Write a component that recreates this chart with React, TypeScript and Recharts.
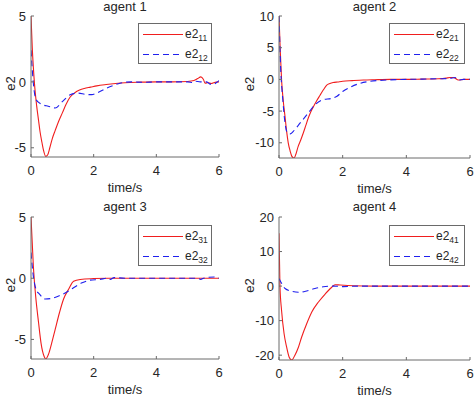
import React from "react";
import { LineChart, Line, XAxis, YAxis } from "recharts";

const FONT = "'Liberation Sans', Arial, Helvetica, sans-serif";
const RED = "#f01e1e";
const BLUE = "#2020ee";
const AXIS = "#6a6a6a";
const TEXT = "#262626";

const timeTicks = [0, 2, 4, 6];

// agent 1
const t11 = [0, 0.04, 0.075, 0.12, 0.18, 0.24, 0.29, 0.35, 0.4, 0.47, 0.53, 0.6, 0.68, 0.77, 0.88, 1.0, 1.12, 1.25, 1.4, 1.55, 1.7, 1.9, 2.1, 2.4, 2.7, 3.0, 3.5, 4.0, 4.5, 5.0, 5.2, 5.32, 5.42, 5.5, 5.56, 5.65, 5.75, 5.85, 6.0];
const e2_11 = [5, 2.6, 1.1, -0.4, -1.8, -2.9, -3.8, -4.6, -5.2, -5.65, -5.55, -5.0, -4.3, -3.7, -3.0, -2.35, -1.7, -1.15, -0.82, -0.62, -0.5, -0.4, -0.3, -0.2, -0.12, -0.06, -0.02, 0, 0, 0.03, 0.1, 0.25, 0.38, 0.2, -0.1, -0.05, -0.12, -0.05, 0];
const t12 = [0, 0.075, 0.16, 0.34, 0.55, 0.77, 1.0, 1.25, 1.5, 1.75, 1.94, 2.1, 2.42, 2.65, 2.84, 3.2, 3.6, 4.0, 4.5, 5.0, 5.17, 5.25, 5.4, 5.6, 5.7, 5.82, 5.92, 6.0];
const e2_12 = [2.4, -0.1, -1.35, -1.7, -1.85, -1.98, -1.5, -0.98, -0.85, -0.95, -0.97, -0.85, -0.47, -0.25, -0.1, 0, -0.03, 0, 0, 0, -0.05, 0.05, 0, 0, -0.15, -0.2, -0.05, 0.1];

// agent 2
const t21 = [0, 0.04, 0.08, 0.13, 0.19, 0.24, 0.29, 0.35, 0.4, 0.47, 0.53, 0.6, 0.68, 0.76, 0.84, 0.92, 1.0, 1.08, 1.18, 1.29, 1.4, 1.5, 1.6, 1.7, 1.85, 2.0, 2.3, 2.65, 3.0, 3.5, 4.0, 4.5, 5.0, 5.25, 5.37, 5.47, 5.53, 5.63, 5.8, 6.0];
const e2_21 = [10, 4.5, 0, -3.2, -5.9, -8.2, -10, -11.3, -12.1, -12.4, -11.8, -10.6, -9.6, -8.5, -7.3, -6.1, -5.1, -4.3, -3.4, -2.5, -1.6, -0.9, -0.65, -0.5, -0.4, -0.3, -0.2, -0.1, -0.05, 0, 0, 0.05, 0.1, 0.2, 0.3, 0.3, 0.2, -0.1, 0, 0];
const t22 = [0, 0.05, 0.12, 0.19, 0.26, 0.35, 0.45, 0.55, 0.66, 0.79, 0.92, 1.13, 1.39, 1.65, 1.81, 2.0, 2.23, 2.54, 2.86, 3.38, 4.0, 4.5, 5.0, 5.37, 5.53, 5.63, 5.8, 6.0];
const e2_22 = [10, 2, -3.2, -6.9, -8.4, -8.6, -8.2, -7.6, -6.9, -6.1, -5.3, -4.0, -3.2, -3.0, -2.7, -1.9, -1.25, -0.63, -0.3, -0.1, 0, 0.05, 0.1, 0.15, 0.3, -0.1, 0, 0];

// agent 3
const t31 = [0, 0.075, 0.15, 0.24, 0.32, 0.42, 0.47, 0.56, 0.66, 0.77, 0.91, 1.04, 1.2, 1.36, 1.57, 2.0, 2.5, 3.0, 4.0, 5.0, 6.0];
const e2_31 = [5, 1, -1.5, -3.6, -5.3, -6.4, -6.6, -6.2, -5.3, -4.2, -2.8, -1.7, -0.9, -0.25, -0.1, -0.03, 0, 0, 0, 0, 0];
const t32 = [0, 0.075, 0.16, 0.27, 0.45, 0.66, 0.93, 1.2, 1.41, 1.63, 1.89, 2.2, 2.43, 2.53, 2.65, 3.0, 4.0, 5.0, 5.3, 5.42, 5.5, 5.85, 6.0];
const e2_32 = [2.1, 0.15, -0.9, -1.3, -1.7, -1.65, -1.4, -1.05, -0.7, -0.38, -0.16, -0.1, 0, -0.1, 0.05, 0, 0, 0, 0, -0.1, 0, 0.1, 0];

// agent 4
const t41 = [0, 0.03, 0.08, 0.16, 0.24, 0.32, 0.4, 0.5, 0.61, 0.71, 0.87, 1.03, 1.24, 1.45, 1.65, 1.76, 1.92, 2.33, 3.0, 4.0, 5.0, 6.0];
const e2_41 = [15.3, 0, -7, -13.8, -17.7, -20.6, -21.4, -20, -17.7, -14.8, -10.9, -7.5, -4.6, -2.3, -0.4, 0.4, 0.3, 0.1, 0, 0, 0, 0];
const t42 = [0, 0.08, 0.19, 0.4, 0.61, 0.87, 1.13, 1.39, 1.7, 2.02, 2.5, 3.0, 4.0, 5.0, 6.0];
const e2_42 = [2.2, 0.8, -0.7, -1.5, -1.8, -1.4, -0.7, -0.2, 0, -0.15, 0, 0, 0, 0, 0];

type Series = { sub: string; t: number[]; v: number[] };

type PanelProps = {
  title: string;
  left: number;
  top: number;
  red: Series;
  blue: Series;
  yDomain: [number, number];
  yTicks: number[];
  plotTop: number;
  plotRight: number;
  yAxisWidth: number;
  xAxisHeight: number;
  legendLeft: number;
  legendTop: number;
  legendWidth: number;
  yLabelX: number;
};

const W = 237;
const H = 200;

const toRows = (s: Series) => s.t.map((t, i) => ({ t, v: s.v[i] }));

function LegendBox({
  items,
  left,
  top,
  width,
}: {
  items: { sub: string; color: string; dashed?: boolean }[];
  left: number;
  top: number;
  width: number;
}) {
  return (
    <div
      style={{
        position: "absolute",
        left,
        top,
        boxSizing: "border-box",
        width,
        height: 41,
        border: `1px solid ${AXIS}`,
        background: "#fff",
        fontFamily: FONT,
        fontSize: 12,
        color: TEXT,
        zIndex: 2,
        transform: "translateZ(0)",
      }}
    >
      {items.map((it, i) => (
        <div
          key={it.sub}
          style={{ position: "absolute", left: 4, top: i === 0 ? 2 : 22, height: 16, display: "flex", alignItems: "center" }}
        >
          <svg width={40} height={16} style={{ display: "block" }}>
            <line
              x1={0}
              x2={40}
              y1={8.5}
              y2={8.5}
              stroke={it.color}
              strokeWidth={1.2}
              strokeDasharray={it.dashed ? "6 4" : undefined}
            />
          </svg>
          <span style={{ marginLeft: 2, lineHeight: "16px", whiteSpace: "nowrap" }}>
            e2
            <span style={{ fontSize: 8.5, position: "relative", top: 3 }}>{it.sub}</span>
          </span>
        </div>
      ))}
    </div>
  );
}

function Panel(p: PanelProps) {
  const plotLeft = p.yAxisWidth;
  const plotW = W - plotLeft - p.plotRight;
  const tickStyle = { fill: TEXT, fontSize: 13, fontFamily: FONT };
  return (
    <div style={{ position: "absolute", left: p.left, top: p.top, width: W, height: H }}>
      <div
        style={{
          position: "absolute",
          left: plotLeft,
          width: plotW,
          top: 0,
          textAlign: "center",
          fontFamily: FONT,
          fontSize: 13,
          lineHeight: "13px",
          color: TEXT,
        }}
      >
        {p.title}
      </div>
      <LineChart width={W} height={H} margin={{ top: p.plotTop, right: p.plotRight, left: 0, bottom: 0 }}>
        <XAxis
          dataKey="t"
          type="number"
          domain={[0, 6]}
          ticks={timeTicks}
          allowDataOverflow
          height={p.xAxisHeight}
          stroke={AXIS}
          tickSize={-3}
          tickMargin={12}
          tick={tickStyle}
          label={{
            value: "time/s",
            position: "insideBottom",
            offset: p.xAxisHeight - 35,
            fill: TEXT,
            fontSize: 13,
            fontFamily: FONT,
          }}
        />
        <XAxis
          xAxisId="top"
          orientation="top"
          dataKey="t"
          type="number"
          domain={[0, 6]}
          ticks={timeTicks}
          height={0}
          stroke={AXIS}
          tickSize={-3}
          tick={false}
        />
        <YAxis
          type="number"
          domain={p.yDomain}
          ticks={p.yTicks}
          allowDataOverflow
          width={p.yAxisWidth}
          stroke={AXIS}
          tickSize={-3}
          tickMargin={8}
          tick={tickStyle}
          label={{
            content: ({ viewBox }: any) => {
              const cy = viewBox.y + viewBox.height / 2 - 3;
              return (
                <text
                  x={p.yLabelX}
                  y={cy}
                  transform={`rotate(-90 ${p.yLabelX} ${cy})`}
                  textAnchor="middle"
                  dominantBaseline="central"
                  fill={TEXT}
                  fontSize={13}
                  fontFamily={FONT}
                >
                  e2
                </text>
              );
            },
          }}
        />
        <YAxis
          yAxisId="right"
          orientation="right"
          type="number"
          domain={p.yDomain}
          ticks={p.yTicks}
          width={0}
          stroke={AXIS}
          tickSize={-3}
          tick={false}
        />
        <Line
          data={toRows(p.red)}
          dataKey="v"
          name={`e2_${p.red.sub}`}
          type="monotone"
          stroke={RED}
          strokeWidth={1.1}
          dot={false}
          isAnimationActive={false}
        />
        <Line
          data={toRows(p.blue)}
          dataKey="v"
          name={`e2_${p.blue.sub}`}
          type="monotone"
          stroke={BLUE}
          strokeWidth={1.1}
          strokeDasharray="6 4"
          dot={false}
          isAnimationActive={false}
        />
      </LineChart>
      <LegendBox
        left={p.legendLeft}
        top={p.legendTop}
        width={p.legendWidth}
        items={[
          { sub: p.red.sub, color: RED },
          { sub: p.blue.sub, color: BLUE, dashed: true },
        ]}
      />
    </div>
  );
}

export default function App() {
  return (
    <div
      style={{
        position: "absolute",
        left: 0,
        top: 0,
        width: 474,
        height: 395,
        overflow: "hidden",
        background: "#fff",
      }}
    >
      <Panel
        title="agent 1"
        left={0}
        top={0}
        red={{ sub: "11", t: t11, v: e2_11 }}
        blue={{ sub: "12", t: t12, v: e2_12 }}
        yDomain={[-5.7, 5]}
        yTicks={[-5, 0, 5]}
        plotTop={16}
        plotRight={18}
        yAxisWidth={31}
        xAxisHeight={43}
        legendLeft={138}
        legendTop={23}
        legendWidth={74}
        yLabelX={10}
      />
      <Panel
        title="agent 2"
        left={237}
        top={0}
        red={{ sub: "21", t: t21, v: e2_21 }}
        blue={{ sub: "22", t: t22, v: e2_22 }}
        yDomain={[-12.4, 10]}
        yTicks={[-10, -5, 0, 5, 10]}
        plotTop={16}
        plotRight={4}
        yAxisWidth={42}
        xAxisHeight={42}
        legendLeft={152}
        legendTop={23}
        legendWidth={76}
        yLabelX={12}
      />
      <Panel
        title="agent 3"
        left={0}
        top={200}
        red={{ sub: "31", t: t31, v: e2_31 }}
        blue={{ sub: "32", t: t32, v: e2_32 }}
        yDomain={[-6.6, 5]}
        yTicks={[-5, 0, 5]}
        plotTop={17}
        plotRight={18}
        yAxisWidth={31}
        xAxisHeight={41}
        legendLeft={138}
        legendTop={25}
        legendWidth={74}
        yLabelX={10}
      />
      <Panel
        title="agent 4"
        left={237}
        top={200}
        red={{ sub: "41", t: t41, v: e2_41 }}
        blue={{ sub: "42", t: t42, v: e2_42 }}
        yDomain={[-21.4, 20]}
        yTicks={[-20, -10, 0, 10, 20]}
        plotTop={17}
        plotRight={4}
        yAxisWidth={42}
        xAxisHeight={40}
        legendLeft={152}
        legendTop={25}
        legendWidth={76}
        yLabelX={12}
      />
    </div>
  );
}
